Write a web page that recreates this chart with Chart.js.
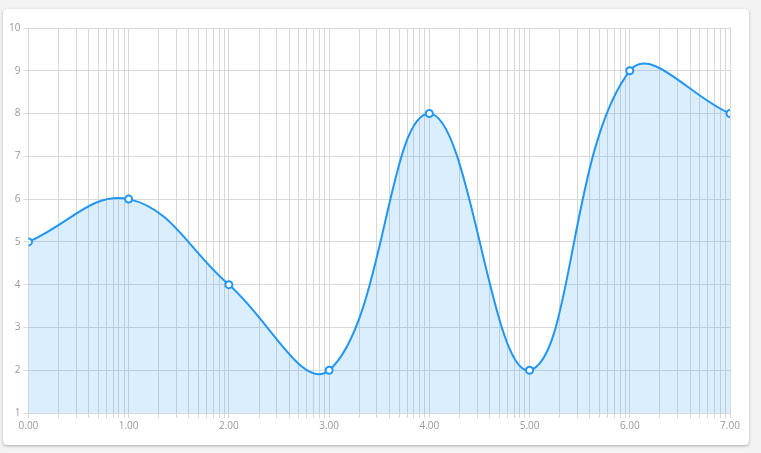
<!DOCTYPE html>
<html>
<head>
<meta charset="utf-8">
<script src="https://cdn.jsdelivr.net/npm/chart.js@4"></script>
<style>
  html, body { margin: 0; padding: 0; background: #f3f3f3; width: 761px; height: 453px; overflow: hidden; }
  #card { position: absolute; left: 3px; top: 9px; width: 746px; height: 436px; background: #fff; border-radius: 4px; box-shadow: 0 1px 3px rgba(0,0,0,0.3); }
  #wrap { position: absolute; left: 0; top: 0; width: 746px; height: 436px; }
</style>
</head>
<body>
<div id="card"><div id="wrap"><canvas id="c"></canvas></div></div>
<script>
const xValues = [0, 1, 2, 3, 4, 5, 6, 7];
const yValues = [5, 6, 4, 2, 8, 2, 9, 8];
const majorXTicks = [0, 1, 2, 3, 4, 5, 6, 7];
const minorSteps = [2, 3, 4, 5, 6, 7, 8, 9];
const yMin = 1, yMax = 10;

const points = xValues.map((x, i) => ({ x: x, y: yValues[i] }));
const tickValues = [];
majorXTicks.forEach((m, i) => {
  tickValues.push({ value: m, major: true });
  if (i < majorXTicks.length - 1) minorSteps.forEach(k => tickValues.push({ value: m + Math.log10(k) }));
});

const fontFam = '"Open Sans", "Segoe UI", sans-serif';
new Chart(document.getElementById('c'), {
  type: 'line',
  data: {
    datasets: [{
      data: points,
      borderColor: '#2196f3',
      borderWidth: 2,
      backgroundColor: 'rgba(33,150,243,0.16)',
      fill: 'start',
      tension: 0.4,
      pointRadius: 3.5,
      pointBorderWidth: 2,
      pointBackgroundColor: '#fff',
      pointBorderColor: '#2196f3'
    }]
  },
  options: {
    responsive: true,
    maintainAspectRatio: false,
    animation: false,
    layout: { padding: { left: 3, right: 19, top: 19, bottom: 11 } },
    plugins: { legend: { display: false }, tooltip: { enabled: false } },
    scales: {
      x: {
        type: 'linear', min: 0, max: 7,
        afterBuildTicks: axis => { axis.ticks = tickValues.map(t => ({ value: t.value })); },
        grid: { color: '#d8d8d8', tickLength: 5, lineWidth: 1 },
        border: { color: '#d8d8d8' },
        ticks: {
          autoSkip: false, maxRotation: 0, color: '#999999', padding: 2,
          font: { family: fontFam, size: 10 },
          callback: v => (Math.abs(v - Math.round(v)) < 1e-9 ? Math.round(v).toFixed(2) : '')
        }
      },
      y: {
        min: yMin, max: yMax,
        grid: { color: '#d8d8d8', tickLength: 5, lineWidth: 1 },
        border: { color: '#d8d8d8' },
        ticks: { stepSize: 1, color: '#999999', padding: 3, font: { family: fontFam, size: 10 } }
      }
    }
  }
});
</script>
</body>
</html>
